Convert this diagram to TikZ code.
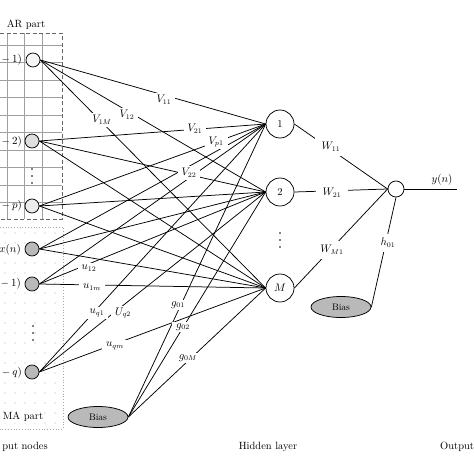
\documentclass[tikz,border=0pt]{standalone}
\usetikzlibrary{shapes.geometric}
\begin{document}
\begin{tikzpicture}[x=1pt,y=-1pt,
  txt/.style={inner sep=0pt, font=\fontsize{10.5}{12}\selectfont},
  lab/.style={fill=white, inner xsep=4pt, inner ysep=2pt, font=\fontsize{10.5}{12}\selectfont},
  wlab/.style={lab, inner xsep=7pt, inner ysep=4pt},
  conn/.style={line width=0.75pt},
  inp/.style={circle, draw, line width=0.75pt, minimum size=14pt, inner sep=0pt},
  hid/.style={circle, draw, line width=0.75pt, minimum size=28pt, inner sep=0pt, fill=white, font=\fontsize{10.5}{12}\selectfont},
  outn/.style={circle, draw, line width=0.75pt, minimum size=16pt, inner sep=0pt, fill=white},
  bias/.style={ellipse, draw, line width=0.75pt, fill=gray!55, minimum width=60pt, minimum height=21pt, inner sep=0pt, font=\fontsize{9.5}{11}\selectfont},
  gridln/.style={gray!75, line width=0.6pt},
  arbox/.style={line width=0.7pt, dash pattern=on 4pt off 2.5pt, gray!80!black},
  mabox/.style={line width=0.8pt, dash pattern=on 0.8pt off 2pt, gray!70},
  vdot/.style={fill=black}
]
\useasboundingbox (0,0) rectangle (474,474);

% AR part box with grid
\foreach \x in {7,24,42} \draw[gridln] (\x,33) -- (\x,219);
\foreach \k in {0,...,9} \draw[gridln] (0,{45+17.5*\k}) -- (62,{45+17.5*\k});
\draw[arbox] (0,33) -- (62,33) -- (62,219) -- (0,219);

% MA part box with dots
\foreach \x in {5,15,...,55} \foreach \y in {233,243,...,423} \fill[gray!60] (\x,\y) circle (0.6pt);
\draw[mabox] (0,227) -- (63,227) -- (63,429) -- (0,429);

% texts
\node[txt] (tAR) at (26,25) {AR part};
\node[txt, fill=white, inner sep=1pt] (tMA) at (23,417) {MA part};
\node[txt] (tIn) at (25,447) {put nodes};
\node[txt] (tHid) at (268,447) {Hidden layer};
\node[txt, anchor=west] (tOut) at (440,447) {Output};

% input nodes
\node[inp, fill=gray!8] (a1) at (33,60) {};
\node[inp, fill=gray!25] (a2) at (32,141) {};
\node[inp, fill=gray!15] (ap) at (32,206) {};
\node[inp, fill=gray!55] (m0) at (32,249) {};
\node[inp, fill=gray!55] (m1) at (32,284) {};
\node[inp, fill=gray!55] (mq) at (32,372) {};

\node[txt, anchor=east] (la1) at (22,60) {$-\,1)$};
\node[txt, anchor=east] (la2) at (22,142) {$-\,2)$};
\node[txt, anchor=east] (lap) at (22,206) {$-\,p)$};
\node[txt, anchor=east] (lm0) at (21,250) {$x(n)$};
\node[txt, anchor=east] (lm1) at (21,284) {$-\,1)$};
\node[txt, anchor=east] (lmq) at (22,373) {$-\,q)$};

% vertical ellipses (drawn dots)
\foreach \y in {169,176,183} \fill[vdot] (32,\y) circle (0.8pt);
\foreach \y in {326,333,340} \fill[vdot] (33,\y) circle (0.8pt);
\foreach \y in {233,240,247} \fill[vdot] (280,\y) circle (0.8pt);

% hidden nodes
\node[hid] (h1) at (280,124) {1};
\node[hid] (h2) at (280,192) {2};
\node[hid] (hM) at (280,288) {$M$};

% output node
\node[outn] (out) at (396,189) {};
\coordinate (yend) at (457,189);

% bias nodes
\node[bias] (b1) at (98,417) {Bias};
\node[bias] (b2) at (341,307) {Bias};

% connectors
\foreach \s in {a1,a2,ap,m0,m1,mq}
  \foreach \t in {h1,h2,hM}
    \draw[conn] (\s.east) -- (\t.west);
\foreach \t in {h1,h2,hM}
  \draw[conn] (b1.east) -- (\t.west);
\foreach \t in {h1,h2,hM}
  \draw[conn] (\t.east) -- (out.west);
\draw[conn] (b2.east) -- (out.south);
\draw[conn] (out.east) -- (yend);

% labels
\node[lab] (lV11) at (164,100) {$V_{11}$};
\node[lab] (lV12) at (127,115) {$V_{12}$};
\node[lab] (lV1M) at (102,120) {$V_{1M}$};
\node[lab] (lV21) at (195,129) {$V_{21}$};
\node[lab] (lVp1) at (216,142) {$V_{p1}$};
\node[lab] (lV22) at (189,173) {$V_{22}$};
\node[lab] (lu12) at (89,268) {$u_{12}$};
\node[lab] (lu1m) at (92,287) {$u_{1m}$};
\node[lab] (luq1) at (97,313) {$u_{q1}$};
\node[lab] (lUq2) at (123,313) {$U_{q2}$};
\node[lab] (luqm) at (115,346) {$u_{qm}$};
\node[lab] (lg01) at (178,305) {$g_{01}$};
\node[lab] (lg02) at (183,327) {$g_{02}$};
\node[lab] (lg0M) at (188,358) {$g_{0M}$};
\node[wlab] (lW11) at (331,147) {$W_{11}$};
\node[wlab] (lW21) at (332,193) {$W_{21}$};
\node[wlab] (lWM1) at (332,250) {$W_{M1}$};
\node[wlab] (lh01) at (388,243) {$h_{01}$};
\node[txt] (lyn) at (442,180) {$y(n)$};
\end{tikzpicture}
\end{document}
